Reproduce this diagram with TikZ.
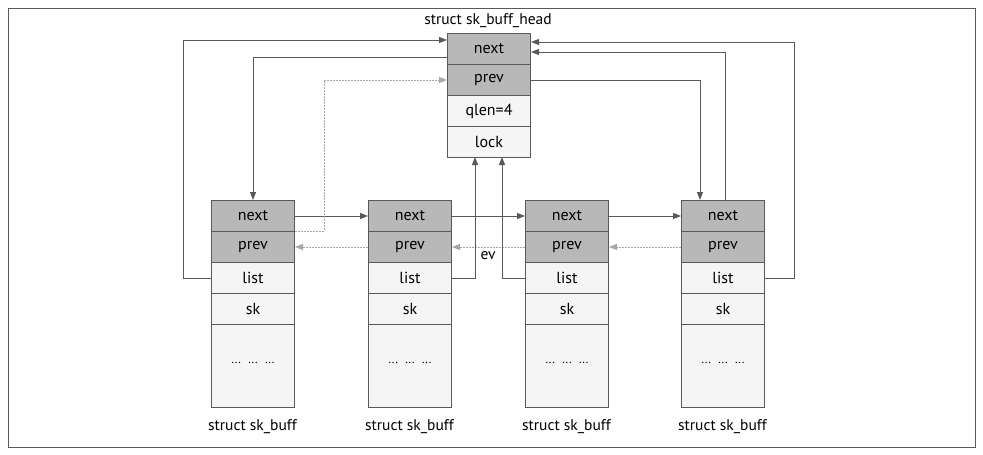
\documentclass[tikz,border=0pt]{standalone}
\usepackage{fontspec}
\setmainfont{PT Sans}
\usetikzlibrary{arrows.meta}
\definecolor{cellgray}{gray}{0.72}
\definecolor{linegray}{gray}{0.35}
\begin{document}
\begin{tikzpicture}[x=1pt,y=-1pt,
  cell/.style={draw=linegray,line width=1pt,minimum width=83pt,minimum height=31pt,inner sep=0pt,font=\fontsize{16}{18}\selectfont,anchor=north west},
  dark/.style={cell,fill=cellgray},
  light/.style={cell,fill=gray!8},
  lbl/.style={font=\fontsize{15.5}{18}\selectfont},
  conn/.style={draw=linegray,line width=1pt,-{Triangle[length=8pt,width=6pt]}},
  dconn/.style={draw=gray!70,line width=1pt,dashed,dash pattern=on 2pt off 1pt,-{Triangle[length=8pt,width=6pt]}}]
\useasboundingbox (0,0) rectangle (983,455);
\draw[linegray,line width=1pt] (8,8) rectangle (975,447);
% head
\node[lbl] (hl) at (488,21) {struct sk\_buff\_head};
\node[dark] (hn) at (447,33) {next};
\node[dark] (hp) at (447,64) {prev};
\node[light] (hq) at (447,95) {qlen=4};
\node[light] (hk) at (447,126) {lock};
% buffers
\foreach \i/\x in {1/211,2/368,3/525,4/681}{
  \node[dark] (n\i) at (\x,200) {next};
  \node[dark] (p\i) at (\x,231) {prev};
  \node[light] (l\i) at (\x,262) {list};
  \node[light] (s\i) at (\x,293) {sk};
  \node[draw=linegray,line width=1pt,fill=gray!8,minimum width=83pt,minimum height=83pt,inner sep=0pt,anchor=north west,font=\fontsize{12}{12}\selectfont] (d\i) at (\x,324) {\raisebox{6pt}{... \ ... \ ...}};
  \node[lbl] (t\i) at (\x+41.5,427) {struct sk\_buff};
}
% next chain
\draw[conn] (n1.east) -- (n2.west);
\draw[conn] (n2.east) -- (n3.west);
\draw[conn] (n3.east) -- (n4.west);
\node[lbl] (ev) at (488,256) {ev};
% prev chain
\draw[dconn] (p2.west) -- (p1.east);
\draw[dconn] (p3.west) -- (p2.east);
\draw[dconn] (p4.west) -- (p3.east);
% head links
\draw[conn] (l1.west) -| (183,40) -- (hn.west |- 0,40);
\draw[conn] (hn.west |- 0,57) -| (n1.north);
\draw[dconn] (p1.north east) -| (324,80) -- (hp.west);
\draw[conn] (hp.east) -| (700,200);
\draw[conn] (725,200) |- (hn.east |- 0,52);
\draw[conn] (l4.east) -| (794,42) -- (hn.east |- 0,42);
\draw[conn] (l2.east) -| (475,157);
\draw[conn] (l3.west) -| (502,157);
\end{tikzpicture}
\end{document}
